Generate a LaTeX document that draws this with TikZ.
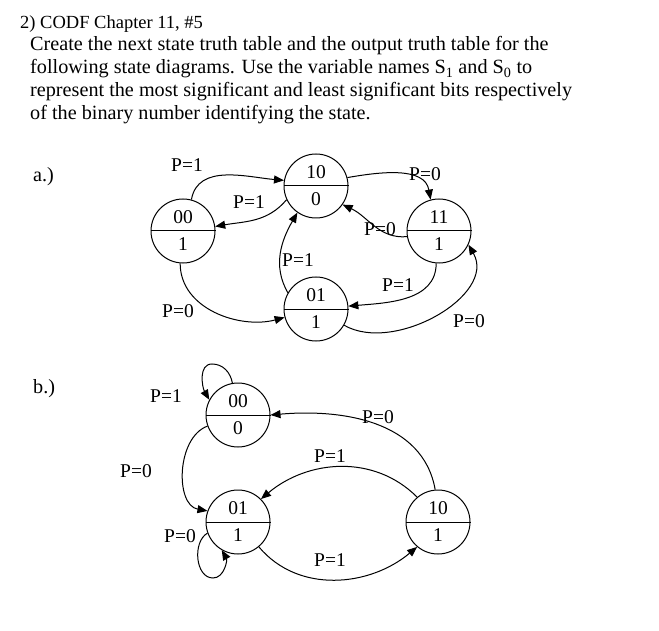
\documentclass[tikz,border=0pt]{standalone}
\usepackage{fontspec}
\setmainfont{Liberation Serif}
\usetikzlibrary{arrows.meta}
\begin{document}
\begin{tikzpicture}[x=1pt,y=-1pt,
  st/.style={circle,draw,line width=1pt,minimum size=64pt,inner sep=0pt},
  arr/.style={-{Triangle[length=10pt,width=8pt]},line width=1pt},
  lb/.style={font=\fontsize{19.5}{22}\selectfont,inner sep=1pt},
  body/.style={font=\fontsize{20.2}{24}\selectfont,anchor=base west,inner sep=0pt}]
\useasboundingbox (0,0) rectangle (659,631);
\newcommand{\mystate}[4]{%
  \node[st] (#1) at (#2) {};
  \draw[line width=1pt] (#1.west) -- (#1.east);
  \node[lb] at ([yshift=14pt]#1.center) {#3};
  \node[lb] at ([yshift=-13pt]#1.center) {#4};}
\node[body,font=\fontsize{18.5}{20}\selectfont] (h) at (20,29) {2) CODF Chapter 11, \#5};
\node[body] (l1) at (30,51) {Create the next state truth table and the output truth table for the};
\node[body] (l2) at (30,74) {following state diagrams. Use the variable names S\textsubscript{1} and S\textsubscript{0} to};
\node[body] (l3) at (30,97) {represent the most significant and least significant bits respectively};
\node[body] (l4) at (30,120) {of the binary number identifying the state.};
\node[body] (pa) at (33,182) {a.)};
\node[body] (pb) at (33,393) {b.)};
% part a
\mystate{a00}{183,231}{00}{1}
\mystate{a10}{316,186}{10}{0}
\mystate{a11}{439,231}{11}{1}
\mystate{a01}{316,309}{01}{1}
\draw[arr] (a00.75) to[out=80,in=175] (a10.170);
\draw[arr] (a10.205) to[out=230,in=10] (a00.8);
\draw[arr] (a10.15) to[out=10,in=100] (a11.105);
\draw[arr] (a11.190) to[out=185,in=-25] (a10.-35);
\draw[arr] (a01.150) to[out=120,in=240] (a10.235);
\draw[arr] (a11.265) to[out=270,in=5] (a01.5);
\draw[arr] (a01.-30) to[out=-30,in=-60] (a11.-25);
\draw[arr] (a00.265) to[out=270,in=195] (a01.195);
\node[lb] at (187,165) {P=1};
\node[lb] at (249,202) {P=1};
\node[lb] at (425,174) {P=0};
\node[lb] at (380,229) {P=0};
\node[lb] at (298,260) {P=1};
\node[lb] at (398,285) {P=1};
\node[lb] at (469,321) {P=0};
\node[lb] at (178,311) {P=0};
% part b
\mystate{b00}{238,415}{00}{0}
\mystate{b01}{238,522}{01}{1}
\mystate{b10}{438,522}{10}{1}
\coordinate (lt) at (212,364);
\coordinate (lbm) at (213,578);
\draw[arr] (b00.100) to[out=100,in=0] (lt) to[out=180,in=120] (b00.152);
\draw[arr] (b00.200) to[out=200,in=170] (b01.160);
\draw[arr] (b10.95) to[out=100,in=5] (b00.0);
\draw[arr] (b10.130) to[out=135,in=40] (b01.45);
\draw[arr] (b01.-50) to[out=-50,in=-140] (b10.-130);
\draw[arr] (b01.200) to[out=210,in=180] (lbm) to[out=0,in=-60] (b01.-120);
\node[lb] at (166,396) {P=1};
\node[lb] at (136,471) {P=0};
\node[lb] at (378,417) {P=0};
\node[lb] at (330,456) {P=1};
\node[lb] at (330,560) {P=1};
\node[lb] at (180,536) {P=0};
\end{tikzpicture}
\end{document}
